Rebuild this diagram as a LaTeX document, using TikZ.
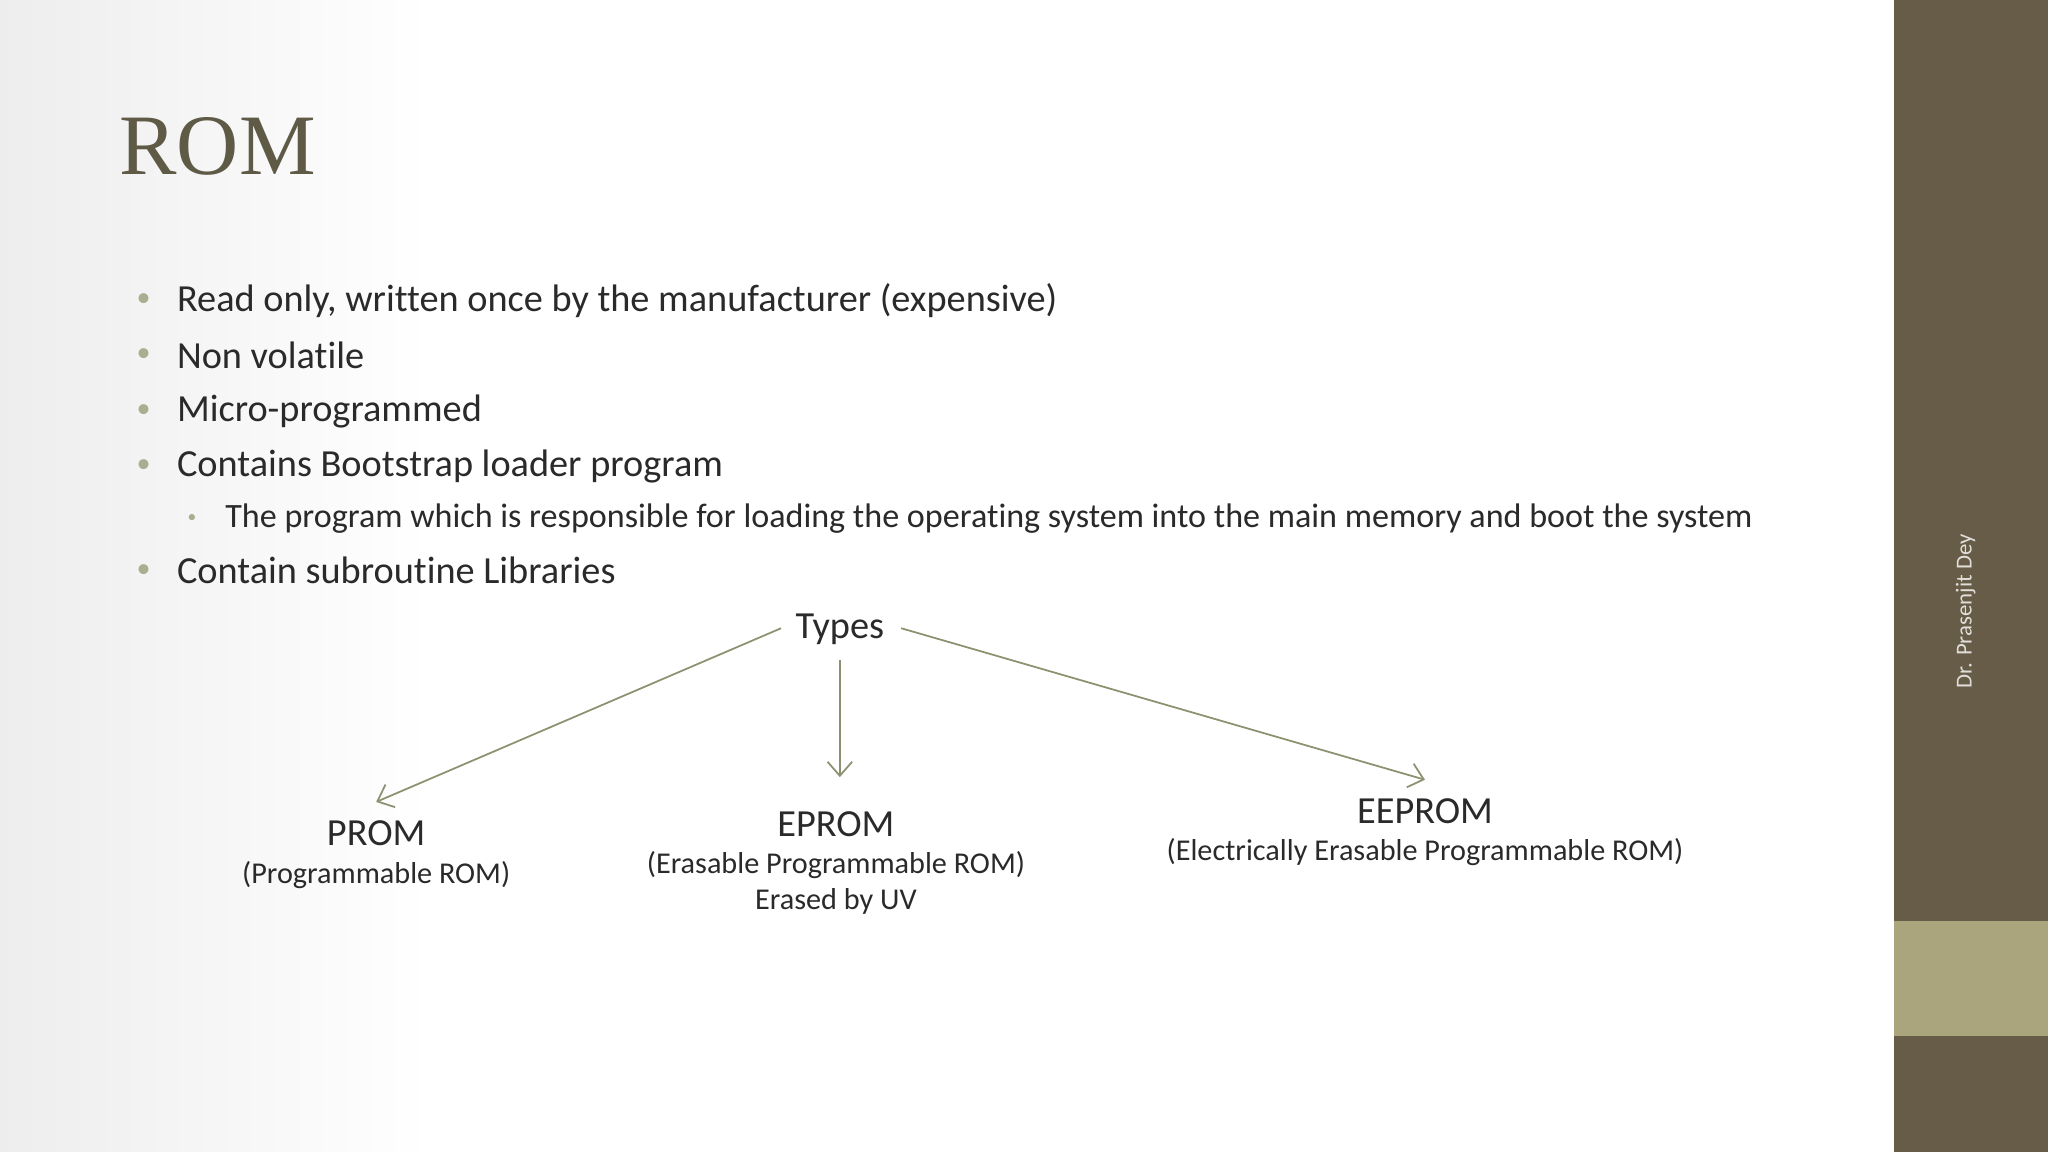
\documentclass[tikz,border=0pt]{standalone}
\usepackage{fontspec}
\setmainfont[RawFeature=-liga]{Carlito}
\newfontfamily\titlefont{Liberation Serif}
\usetikzlibrary{arrows.meta}
\definecolor{barc}{HTML}{675C47}
\definecolor{barl}{HTML}{ABA57E}
\definecolor{titc}{HTML}{5E5A45}
\definecolor{linec}{HTML}{8E9170}
\definecolor{bulc}{HTML}{A8AE90}
\definecolor{txt}{HTML}{2A2A2A}
\begin{document}
\begin{tikzpicture}[x=0.013061cm,y=-0.013061cm,
  bul/.style={anchor=west,font=\fontsize{10.9}{12}\selectfont,text=txt,inner sep=0},
  sub/.style={anchor=west,font=\fontsize{9.7}{11}\selectfont,text=txt,inner sep=0},
  dot/.style={text=bulc,inner sep=0},
  lbl/.style={align=center,text=txt,inner sep=1pt},
  arr/.style={draw=linec,line width=0.5pt,-{Straight Barb[length=4pt,width=7pt]}}]
\useasboundingbox (0,0) rectangle (1568,882);
\fill[white] (0,0) rectangle (1450,882);
\shade[left color=black!7,right color=white] (0,0) rectangle (330,882);
\fill[barc] (1450,0) rectangle (1568,882);
\fill[barl] (1450,705) rectangle (1568,793);
\node[rotate=90,text=white!80!barc,font=\fontsize{6.5}{7}\selectfont] (auth) at (1505,468) {Dr. Prasenjit Dey};
\node[anchor=west,inner sep=0,text=titc,font=\titlefont\fontsize{24.5}{28}\selectfont] (title) at (91,112) {ROM};
\foreach \y/\t [count=\i] in {230/{Read only, written once by the manufacturer (expensive)},272/{Non volatile},315/{Micro-programmed},357/{Contains Bootstrap loader program},437/{Contain subroutine Libraries}}{
  \node[dot] (d\i) at (110,\y) {\footnotesize\textbullet};
  \node[bul] (b\i) at (135,\y) {\t};}
\node[dot] (ds) at (147,397) {\tiny\textbullet};
\node[sub] (s1) at (172,397) {The program which is responsible for loading the operating system into the main memory and boot the system};
\node[lbl,font=\fontsize{10.9}{12}\selectfont] (types) at (643,482) {Types};
\node[lbl,font=\fontsize{10.9}{12}\selectfont] (prom) at (288,638) {PROM};
\node[lbl,font=\fontsize{8.6}{10}\selectfont] (promd) at (288,670) {(Programmable ROM)};
\node[lbl,font=\fontsize{10.9}{12}\selectfont] (eprom) at (640,631) {EPROM};
\node[lbl,font=\fontsize{8.6}{10.2}\selectfont] (epromd) at (640,676) {(Erasable Programmable ROM)\\Erased by UV};
\node[lbl,font=\fontsize{10.9}{12}\selectfont] (eeprom) at (1091,621) {EEPROM};
\node[lbl,font=\fontsize{8.6}{10}\selectfont] (eepromd) at (1091,652) {(Electrically Erasable Programmable ROM)};
\coordinate (tl) at (598,481);
\coordinate (tr) at (690,481);
\coordinate (tb) at (643,505);
\coordinate (ap) at (288,614);
\coordinate (ae) at (643,595);
\coordinate (aee) at (1091,597);
\draw[arr] (tl) -- (ap);
\draw[arr] (tb) -- (ae);
\draw[arr] (tr) -- (aee);
\end{tikzpicture}
\end{document}
